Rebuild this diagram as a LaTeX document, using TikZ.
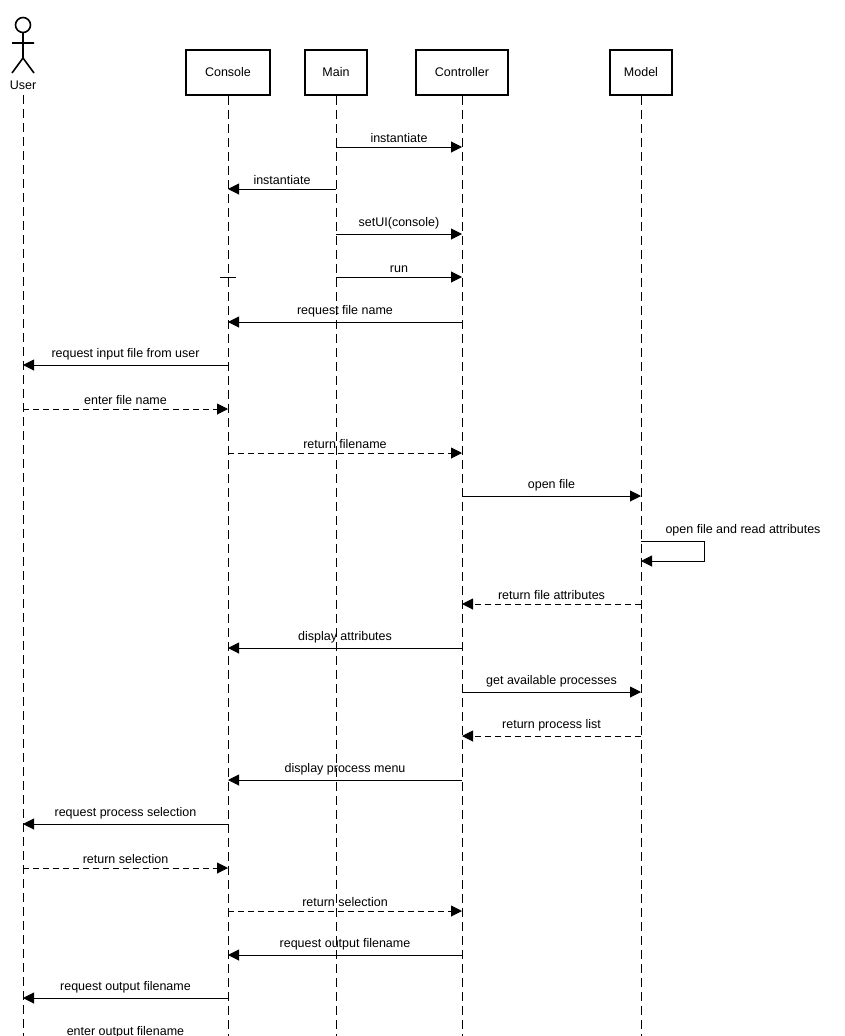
\documentclass[tikz,border=0pt]{standalone}
\usepackage{fontspec}
\setmainfont{Liberation Sans}
\usetikzlibrary{arrows.meta,positioning}
\tikzstyle{head} = [rectangle,
                    minimum height=45pt,
                    inner sep=0pt,
                    draw=black,
                    line width=1.6pt,
                    font=\fontsize{12.5}{14}\selectfont]
\tikzstyle{life} = [dash pattern=on 9pt off 5pt, line width=1pt]
\tikzstyle{msg} = [line width=1pt, -{Triangle[length=11pt,width=11pt]}]
\tikzstyle{ret} = [msg, dash pattern=on 6pt off 4pt]
\tikzstyle{lbl} = [above=3pt, font=\fontsize{12.5}{14}\selectfont, inner sep=1pt]

\begin{document}
\begin{tikzpicture}[x=1pt,y=-1pt]
    \useasboundingbox (0,0) rectangle (844,1036);
    \clip (0,0) rectangle (844,1036);
    % heads
    \node (Console) at (228,72.5) [head, minimum width=84pt] {Console};
    \node (Main) at (336,72.5) [head, minimum width=62pt] {Main};
    \node (Controller) at (462,72.5) [head, minimum width=92pt] {Controller};
    \node (Model) at (641,72.5) [head, minimum width=62pt] {Model};
    % actor
    \coordinate (User) at (23,95);
    \draw[line width=1.6pt] (23,25) circle (7.5);
    \draw[line width=1.6pt] (23,32.5) -- (23,58) (12,43) -- (34,43)
      (12,73) -- (23,58) -- (34,73);
    \node (UserLbl) at (23,85) [font=\fontsize{12.5}{14}\selectfont] {User};
    % lifelines
    \foreach \n in {User,Console,Main,Controller,Model}
      \draw[life] (\n.south) -- (\n |- {0,1040});
    \draw[line width=1pt] (Console |- {0,277}) ++(-8,0) -- ++(16,0);
    % messages
    \foreach \y/\a/\b/\s/\t in {
        147/Main/Controller/msg/instantiate,
        189/Main/Console/msg/instantiate,
        234/Main/Controller/msg/setUI(console),
        277/Main/Controller/msg/run,
        322/Controller/Console/msg/request file name,
        365/Console/User/msg/request input file from user,
        409/User/Console/ret/enter file name,
        453/Console/Controller/ret/return filename,
        496/Controller/Model/msg/open file,
        604/Model/Controller/ret/return file attributes,
        648/Controller/Console/msg/display attributes,
        692/Controller/Model/msg/get available processes,
        736/Model/Controller/ret/return process list,
        780/Controller/Console/msg/display process menu,
        824/Console/User/msg/request process selection,
        868/User/Console/ret/return selection,
        911/Console/Controller/ret/return selection,
        955/Controller/Console/msg/request output filename,
        998/Console/User/msg/request output filename,
        1043/User/Console/ret/enter output filename}
      \draw[\s] (\a |- {0,\y}) -- node[lbl] {\t} (\b |- {0,\y});
    % self message
    \draw[msg] (Model |- {0,541}) -- ++(63,0) -- ++(0,20) -- (Model |- {0,561});
    \node (SelfLbl) at (743,530) [font=\fontsize{12.5}{14}\selectfont] {open file and read attributes};
\end{tikzpicture}
\end{document}
